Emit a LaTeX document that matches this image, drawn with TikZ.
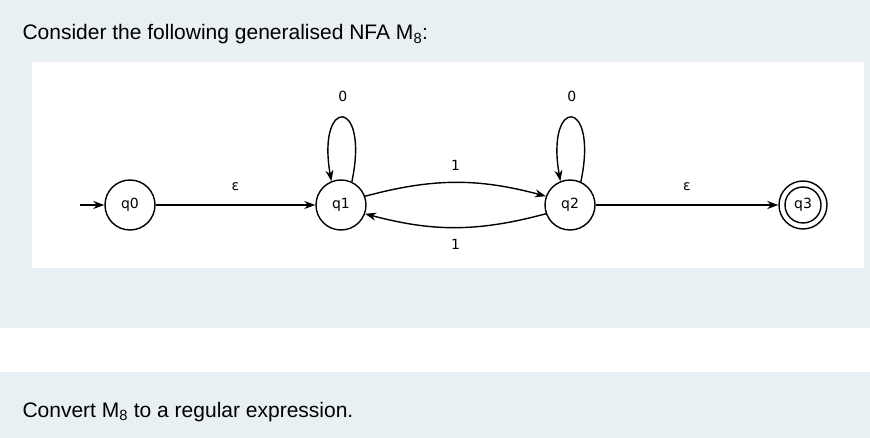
\documentclass[tikz,border=0pt]{standalone}
\usepackage{fontspec}
\setmainfont{Liberation Sans}
\newfontfamily\djvfont{DejaVu Sans}
\usetikzlibrary{arrows.meta}
\definecolor{panel}{HTML}{E8F0F3}
\begin{document}
\begin{tikzpicture}[x=1pt,y=-1pt,
  st/.style={circle,draw,line width=1.4pt,minimum size=50pt,inner sep=0pt,font=\djvfont\fontsize{14}{16}\selectfont},
  ed/.style={-{Stealth[length=11pt,width=8pt]},line width=1.4pt},
  lb/.style={font=\djvfont\fontsize{14}{16}\selectfont}]
\useasboundingbox (0,0) rectangle (870,438);
\fill[panel] (0,0) rectangle (870,328);
\fill[panel] (0,372) rectangle (870,438);
\fill[white] (32,62) rectangle (864,268);
\node[anchor=base west,font=\fontsize{21}{25}\selectfont] (t1) at (19,40) {Consider the following generalised NFA M\textsubscript{8}:};
\node[anchor=base west,font=\fontsize{21}{25}\selectfont] (t2) at (19,417) {Convert M\textsubscript{8} to a regular expression.};
\node[st] (q0) at (130,205) {q0};
\node[st] (q1) at (341,205) {q1};
\node[st] (q2) at (570,205) {q2};
\node[st,minimum size=48pt] (q3) at (803,205) {};
\node[st,minimum size=36pt] (q3i) at (803,205) {q3};
\coordinate (s) at (80,205);
\draw[ed] (s) -- (q0);
\draw[ed] (q0) -- node[lb,above=10pt]{ε} (q1);
\draw[ed] (q2) -- node[lb,above=10pt]{ε} (q3);
\draw[ed] (q1.20) to[bend left=15] node[lb,above=8pt]{1} (q2.160);
\draw[ed] (q2.200) to[bend left=15] node[lb,below=8pt]{1} (q1.340);
\draw[ed] (q1.65) .. controls +(18,-85) and +(-15,-85) .. node[lb,above=12pt]{0} (q1.112);
\draw[ed] (q2.65) .. controls +(18,-85) and +(-15,-85) .. node[lb,above=12pt]{0} (q2.112);
\end{tikzpicture}
\end{document}
